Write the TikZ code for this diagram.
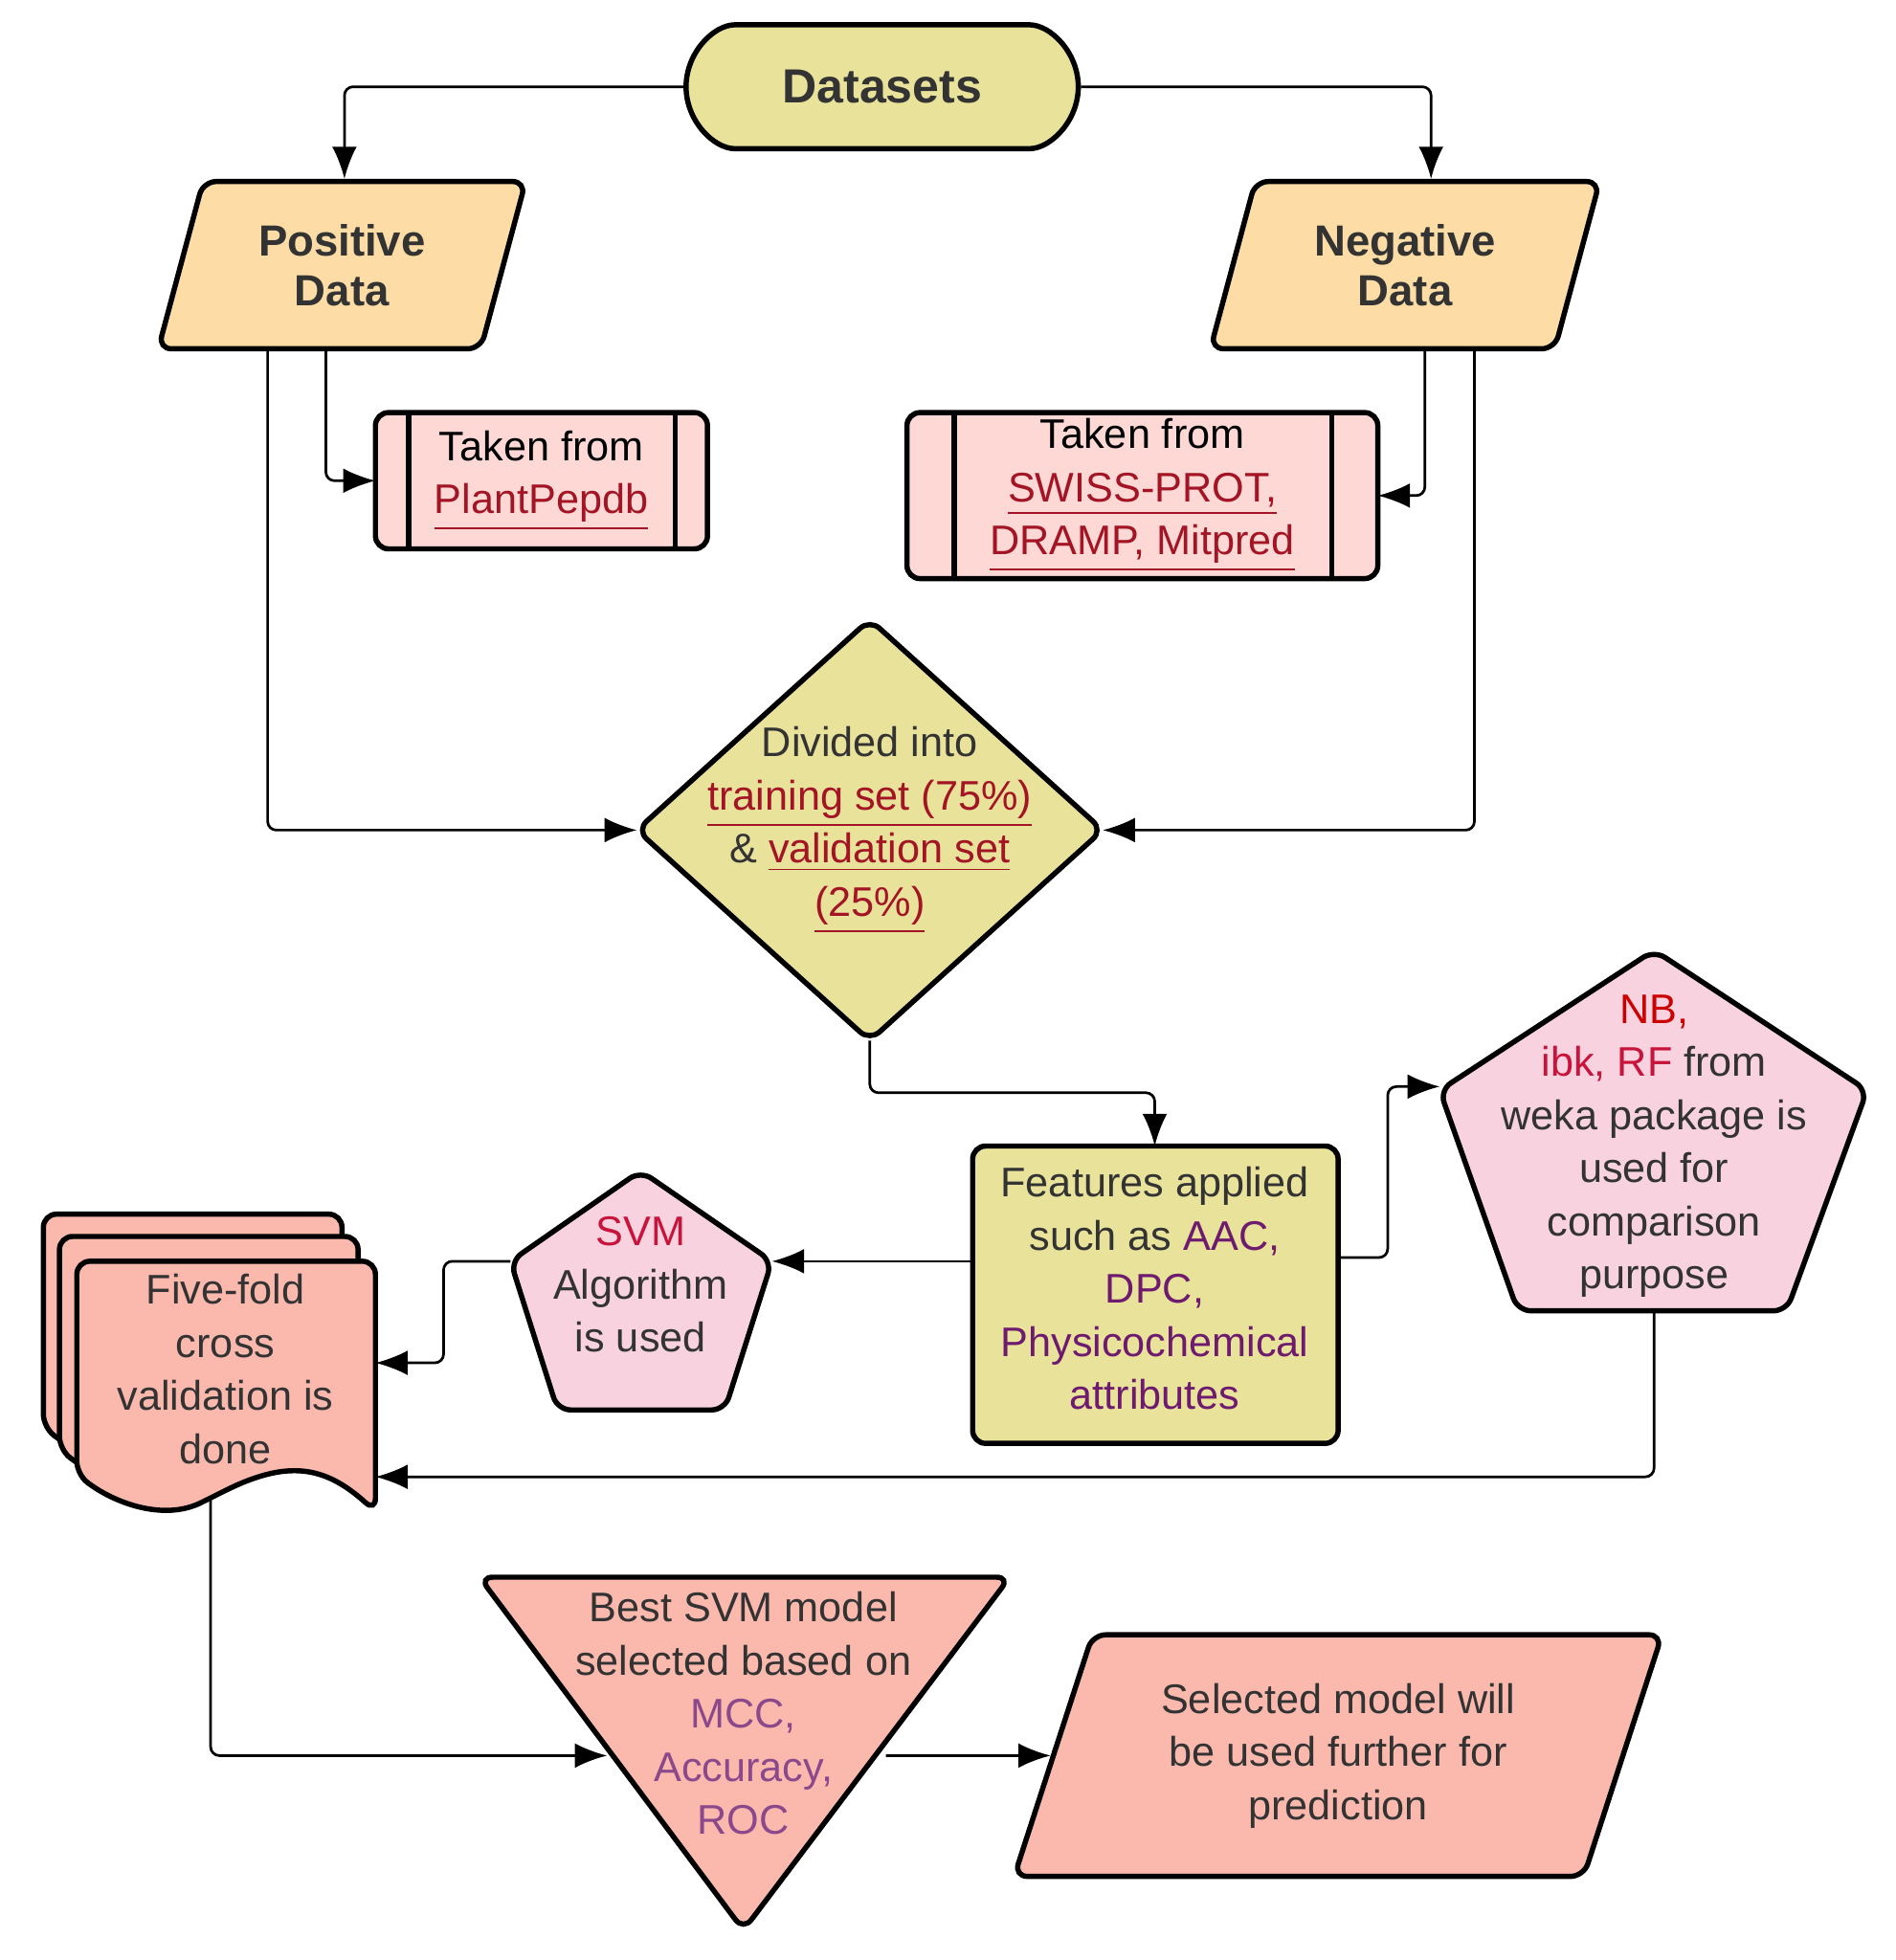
\documentclass[tikz,border=0pt]{standalone}
\usepackage{fontspec}
\setmainfont{Liberation Sans}
\usepackage{xcolor}
\usetikzlibrary{positioning}
\usetikzlibrary{shapes.geometric,shapes.misc,arrows.meta}
\definecolor{olive}{HTML}{E8E29A}
\definecolor{peach}{HTML}{FDDDA5}
\definecolor{rosy}{HTML}{FDD8D5}
\definecolor{pinky}{HTML}{F8D3DF}
\definecolor{salmon}{HTML}{FBB9AD}
\definecolor{txt}{HTML}{333333}
\definecolor{link}{HTML}{A31525}
\definecolor{plum}{HTML}{6E1A6E}
\definecolor{crim}{HTML}{C8143C}
\newcommand{\lnk}[1]{\textcolor{link}{\underline{#1}}}
\tikzset{
	box/.style={draw,line width=1.2pt,rounded corners=3pt},
	lbl/.style={align=center,text=txt,font=\fontsize{9.5}{12.2}\selectfont},
	arr/.style={-{Latex[length=2.6mm,width=2mm]},line width=0.6pt,rounded corners=2pt}
}
\begin{document}
\begin{tikzpicture}[x=0.1mm,y=-0.1mm]
	\useasboundingbox (0,0) rectangle (1530,1582);
	% oberer Teil
	\node[box,fill=olive,rounded rectangle,minimum width=34mm,minimum height=10mm,
		font=\bfseries\fontsize{11}{13}\selectfont,text=txt] (data) at (712,70) {Datasets};
	\node[box,fill=peach,trapezium,trapezium left angle=75,trapezium right angle=105,
		minimum width=19mm,minimum height=13.5mm,inner xsep=2pt,
		font=\bfseries\fontsize{10}{11.5}\selectfont,text=txt,align=center] (pos) at (276,214) {Positive\\Data};
	\node[box,fill=peach,trapezium,trapezium left angle=75,trapezium right angle=105,
		minimum width=19mm,minimum height=13.5mm,inner xsep=2pt,
		font=\bfseries\fontsize{10}{11.5}\selectfont,text=txt,align=center] (neg) at (1134,214) {Negative\\Data};
	\draw[box,fill=rosy] (303,333) rectangle (571,443);
	\draw[line width=1.2pt] (330,333) -- (330,443) (545,333) -- (545,443);
	\node[lbl,text=black] (plant) at (437,388) {Taken from\\\lnk{PlantPepdb}};
	\draw[box,fill=rosy] (732,333) rectangle (1112,467);
	\draw[line width=1.2pt] (770,333) -- (770,467) (1075,333) -- (1075,467);
	\node[lbl,text=black] (swiss) at (922,400) {Taken from\\\lnk{SWISS-PROT,}\\\lnk{DRAMP, Mitpred}};
	\coordinate (swissE) at (1112,400);
	\coordinate (plantW) at (303,388);
	% Raute
	\draw[box,fill=olive] (702,500) -- (890,670) -- (702,840) -- (514,670) -- cycle;
	\coordinate (divN) at (702,840);
	\coordinate (divW) at (514,670);
	\coordinate (divE) at (890,670);
	\node[lbl] (div) at (702,670) {Divided into\\\lnk{training set (75\%)}\\\& \lnk{validation set}\\\lnk{(25\%)}};
	% mittlerer Teil
	\draw[box,fill=olive] (785,925) rectangle (1080,1165);
	\node[lbl] (feat) at (932,1040) {Features applied\\such as \textcolor{plum}{AAC,}\\\textcolor{plum}{DPC,}\\\textcolor{plum}{Physicochemical}\\\textcolor{plum}{attributes}};
	\coordinate (featN) at (932,925);
	\coordinate (featW) at (785,1018);
	\coordinate (featE) at (1080,1015);
	\draw[box,fill=pinky] (1335,767) -- (1507,880) -- (1442,1058) -- (1225,1058) -- (1162,880) -- cycle;
	\node[lbl] (weka) at (1335,925) {\textcolor{red!80!black}{NB,}\\\textcolor{crim}{ibk, RF} from\\weka package is\\used for\\comparison\\purpose};
	\coordinate (wekaW) at (1162,877);
	\coordinate (wekaS) at (1335,1058);
	\draw[box,fill=pinky] (517,945) -- (623,1018) -- (585,1138) -- (450,1138) -- (412,1018) -- cycle;
	\node[lbl] (svm) at (517,1037) {\textcolor{crim}{SVM}\\Algorithm\\is used};
	\coordinate (svmE) at (623,1018);
	\coordinate (svmW) at (412,1018);
	\foreach \dx/\dy in {-27/-38,-14/-20,0/0}
		\draw[box,fill=salmon,shift={(62+\dx,1018+\dy)}] (0,0) -- (241,0) -- (241,202)
			.. controls (200,165) and (170,160) .. (110,190) .. controls (70,210) and (30,195) .. (0,172) -- cycle;
	\node[lbl] (five) at (182,1105) {Five-fold\\cross\\validation is\\done};
	\coordinate (fiveA) at (303,1100);
	\coordinate (fiveB) at (303,1192);
	\coordinate (fiveS) at (170,1210);
	% unterer Teil
	\draw[box,fill=salmon] (387,1273) -- (815,1273) -- (600,1558) -- cycle;
	\node[lbl] (best) at (600,1383) {Best SVM model\\selected based on\\\textcolor{plum!80}{MCC,}\\\textcolor{plum!80}{Accuracy,}\\\textcolor{plum!80}{ROC}};
	\coordinate (bestW) at (490,1417);
	\coordinate (bestE) at (715,1417);
	\node[box,fill=salmon,trapezium,trapezium left angle=72,trapezium right angle=108,
		minimum width=31mm,minimum height=19.5mm,inner xsep=0pt,lbl] (sel) at (1080,1417)
		{Selected model will\\be used further for\\prediction};
	% Pfeile
	\draw[arr] (data.west) -| (pos.north -| 278,0);
	\draw[arr] (data.east) -| (neg.north -| 1155,0);
	\draw[arr] (263,282) |- (plantW);
	\draw[arr] (216,282) |- (divW);
	\draw[arr] (1150,282) |- (swissE);
	\draw[arr] (1190,282) |- (divE);
	\draw[arr] (divN) -- (702,882) -| (featN);
	\draw[arr] (featW) -- (svmE);
	\draw[arr] (svmW) -- (358,1018) |- (fiveA);
	\draw[arr] (featE) -- (1120,1015) |- (wekaW);
	\draw[arr] (wekaS) |- (fiveB);
	\draw[arr] (fiveS) |- (bestW);
	\draw[arr] (bestE) -- (sel.west);
\end{tikzpicture}
\end{document}
